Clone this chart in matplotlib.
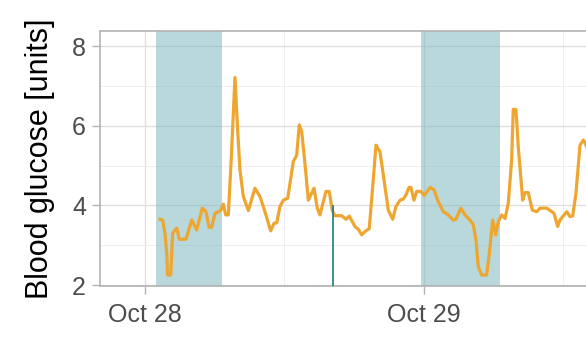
import matplotlib.pyplot as plt
import matplotlib.dates as mdates
import pandas as pd

plt.rcParams['font.family'] = ['Liberation Sans', 'DejaVu Sans']

# glucose readings, hours after Oct 28 00:00
hours = [1.29, 1.52, 1.72, 1.87, 1.95, 2.21, 2.38, 2.73, 2.95, 3.53, 4.02, 4.45,
         4.93, 5.25, 5.51, 5.74, 6.02, 6.31, 6.51, 6.74, 6.94, 7.17, 7.40, 7.74,
         7.97, 8.17, 8.46, 8.89, 9.46, 9.89, 10.32, 10.81, 11.10, 11.33, 11.61,
         11.90, 12.28, 12.76, 13.05, 13.27, 13.48, 13.76, 14.05, 14.54, 14.82,
         15.05, 15.57, 15.85, 16.11, 16.34, 16.92, 17.29, 17.58, 18.06, 18.35,
         18.64, 18.92, 19.29, 19.59, 19.87, 20.21, 20.56, 20.93, 21.31, 21.59,
         21.94, 22.22, 22.45, 22.71, 22.88, 23.14, 23.37, 23.72, 24.03, 24.52,
         24.86, 25.23, 25.66, 26.00, 26.52, 26.75, 27.16, 27.53, 27.96, 28.24,
         28.47, 28.67, 28.96, 29.39, 29.62, 29.91, 30.17, 30.39, 30.68, 30.97,
         31.25, 31.54, 31.68, 31.91, 32.11, 32.49, 32.69, 32.97, 33.32, 33.69,
         33.98, 34.56, 34.99, 35.18, 35.50, 35.70, 36.27, 36.56, 36.79, 37.07,
         37.42, 37.71, 37.94, 38.20]
glucose = [3.65, 3.63, 3.30, 2.80, 2.25, 2.25, 3.30, 3.43, 3.15, 3.15, 3.63, 3.38,
           3.93, 3.84, 3.45, 3.45, 3.80, 3.84, 3.87, 4.03, 3.76, 3.76, 5.05, 7.21,
           5.89, 4.89, 4.22, 3.87, 4.43, 4.22, 3.84, 3.36, 3.55, 3.56, 3.97,
           4.13, 4.18, 5.10, 5.26, 6.02, 5.85, 5.05, 4.13, 4.43, 3.93,
           3.76, 4.35, 4.35, 3.87, 3.74, 3.74, 3.65, 3.73, 3.47, 3.40,
           3.26, 3.34, 3.42, 4.47, 5.51, 5.35, 4.64, 3.88, 3.65, 3.97,
           4.13, 4.16, 4.26, 4.45, 4.45, 4.13, 4.35, 4.35, 4.25, 4.45,
           4.39, 4.09, 3.84, 3.78, 3.63, 3.65, 3.93, 3.76, 3.63, 3.51,
           3.13, 2.46, 2.25, 2.25, 2.80, 3.63, 3.26, 3.59, 3.76, 3.67,
           4.05, 5.14, 6.41, 6.41, 5.47, 4.13, 4.32, 4.32, 3.88, 3.84,
           3.93, 3.93, 3.84, 3.80, 3.47, 3.63, 3.84, 3.72, 3.73, 4.30,
           5.51, 5.64, 5.51, 5.30]

# night periods (start, end) in hours
night_start = [0.95, 23.74]
night_end = [6.62, 30.54]

# event marker
event_hour = 16.17
event_level = 4.0

day0 = pd.Timestamp('2023-10-28')
def to_time(h):
    return day0 + pd.to_timedelta(h, unit='h')

t = [to_time(h) for h in hours]

fig = plt.figure(figsize=(5.86, 3.56), dpi=100)
ax = fig.add_axes([100 / 586, 70 / 356, 490 / 586, 255 / 356])

for s, e in zip(night_start, night_end):
    ax.axvspan(to_time(s), to_time(e), color='#7fb9be', alpha=0.55, lw=0, zorder=1)

ax.plot(t, glucose, color='#eea630', lw=2.3, solid_joinstyle='round', zorder=3)
ax.vlines(to_time(event_hour), 1.9, event_level, color='#1c7b82', lw=1.2, zorder=4)

ax.set_xlim(to_time(-3.87), to_time(38.28))
ax.set_ylim(1.975, 8.377)

ax.set_yticks([2, 4, 6, 8])
ax.set_yticks([3, 5, 7], minor=True)
ax.xaxis.set_major_locator(mdates.DayLocator())
ax.xaxis.set_major_formatter(mdates.DateFormatter('%b %d'))
ax.xaxis.set_minor_locator(mdates.HourLocator(byhour=[12]))

ax.grid(which='major', color='#dedede', lw=0.9, zorder=0)
ax.grid(which='minor', color='#ececec', lw=0.6, zorder=0)
ax.set_axisbelow(True)

for sp in ax.spines.values():
    sp.set_color('#b3b3b3')
    sp.set_linewidth(1.2)

ax.tick_params(which='major', length=6, width=1, color='#b3b3b3',
               labelsize=18, labelcolor='#4d4d4d', pad=4)
ax.tick_params(axis='x', pad=6)
ax.tick_params(which='minor', length=0)

ax.set_ylabel('Blood glucose [units]', fontsize=22, labelpad=12)

fig.savefig('out.png', dpi=100)
